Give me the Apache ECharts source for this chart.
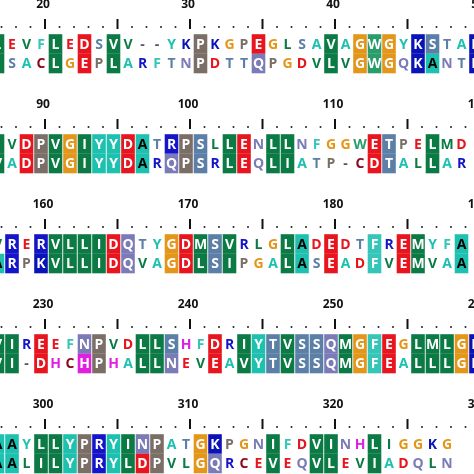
<!DOCTYPE html>
<html lang="en">
<head>
    <meta charset="UTF-8">
    <title>alignment</title>
    <style>
        html, body { margin: 0; padding: 0; background: #fff; }
        #main { width: 474px; height: 474px; }
    </style>
</head>
<body>
<div id="main"></div>
<script src="https://cdn.jsdelivr.net/npm/echarts@6/dist/echarts.min.js"></script>
<script>
    // uppercase = boxed residue, lowercase = plain coloured letter
    const blockStarts = [17, 87, 157, 227, 297];
    const topRows = [
        'LevfLeDsVv--ykPkgpEglsaVaGWGyKStaK',
        'IvDPVGIYYDAtRPSlLEnLLnfggwETpeLmd ',
        'vReRVLLIDQtyGDMSVrlgLAdEdtFrEMyfA ',
        'VIrEefNPvdLLShfDrIYTVSSQMGFEgLMLGK',
        'AAyLLYPRYINPatGKpgnIfdVInhLiggkg  '
    ];
    const bottomRows = [
        'IsacLgEpLarftnPdttQpgdvLvGWGqKAntK',
        'VaDPVGIYYDArQPSrLEqLIatp-cDTalLar ',
        'ARpKVLLIDQvaGDLSIpgaLAsEadFvEMvaA ',
        'VI-DhcHPhaLLNevEaVYTVSSQMGFEaLLLGK',
        'AAlILYPRYLDPvlGQrceVeqVLevIadqln  '
    ];

    const colour = {
        L: '#0b7a45', V: '#0b7a45', I: '#0b7a45', M: '#0b7a45', W: '#2a9d6a',
        D: '#e8141e', E: '#e8141e', C: '#8b0a1e',
        P: '#7a6e66', G: '#e3961a',
        A: '#1ec1b0', Y: '#1ec1b0', F: '#35c6b9',
        K: '#0a13b5', R: '#1414c8',
        S: '#5b7fa6', T: '#5b7fa6',
        Q: '#7b7bb8', N: '#7b7bb8', H: '#e020e0'
    };

    const cells = [], marks = [];
    blockStarts.forEach((start, b) => {
        [topRows[b], bottomRows[b]].forEach((seq, r) => {
            for (let c = 0; c < seq.length; c++) {
                const ch = seq[c];
                if (ch === ' ') continue;
                cells.push([-2.5 + c * 14.5, 44 + b * 100 + r * 19.5, ch.toUpperCase(), ch !== ch.toLowerCase() && ch === ch.toUpperCase()]);
            }
        });
        for (let c = 0; c < 34; c++) {
            const p = start + c;
            marks.push([-2.5 + c * 14.5 + 4, 25 + b * 100, p % 5 === 0 ? 'tick' : 'dot', p % 10 === 0 ? String(p) : '']);
        }
    });

    const myChart = echarts.init(document.getElementById('main'));
    myChart.setOption({
        animation: false,
        grid: {left: 0, right: 0, top: 0, bottom: 0},
        xAxis: {type: 'value', min: 0, max: 474, show: false},
        yAxis: {type: 'value', min: 0, max: 474, inverse: true, show: false},
        series: [{
            type: 'custom',
            data: cells,
            renderItem: function (params, api) {
                const pt = api.coord([api.value(0), api.value(1)]);
                const ch = cells[params.dataIndex][2];
                const boxed = cells[params.dataIndex][3];
                const col = colour[ch] || '#333';
                const children = [];
                if (boxed) {
                    children.push({type: 'rect', shape: {x: pt[0] - 6.8, y: pt[1] - 9.8, width: 13.6, height: 19.6}, style: {fill: col}});
                }
                children.push({type: 'text', style: {
                    text: ch, x: pt[0], y: pt[1] + 1, align: 'center', verticalAlign: 'middle',
                    font: 'bold 14px "Open Sans", sans-serif',
                    fill: boxed ? (ch === 'A' ? '#000' : '#fff') : (ch === '-' ? '#555' : col)
                }});
                return {type: 'group', children: children};
            }
        }, {
            type: 'custom',
            data: marks,
            renderItem: function (params, api) {
                const pt = api.coord([api.value(0), api.value(1)]);
                const m = marks[params.dataIndex];
                const children = [];
                if (m[2] === 'tick') {
                    children.push({type: 'rect', shape: {x: pt[0] - 1, y: pt[1] - 6, width: 2, height: 10}, style: {fill: '#111'}});
                } else {
                    children.push({type: 'circle', shape: {cx: pt[0], cy: pt[1] + 2, r: 1}, style: {fill: '#222'}});
                }
                if (m[3]) {
                    children.push({type: 'text', style: {
                        text: m[3], x: pt[0] - 2, y: pt[1] - 20, align: 'center', verticalAlign: 'middle',
                        font: 'bold 12px "Open Sans", sans-serif', fill: '#111'
                    }});
                }
                return {type: 'group', children: children};
            }
        }]
    });
</script>
</body>
</html>
